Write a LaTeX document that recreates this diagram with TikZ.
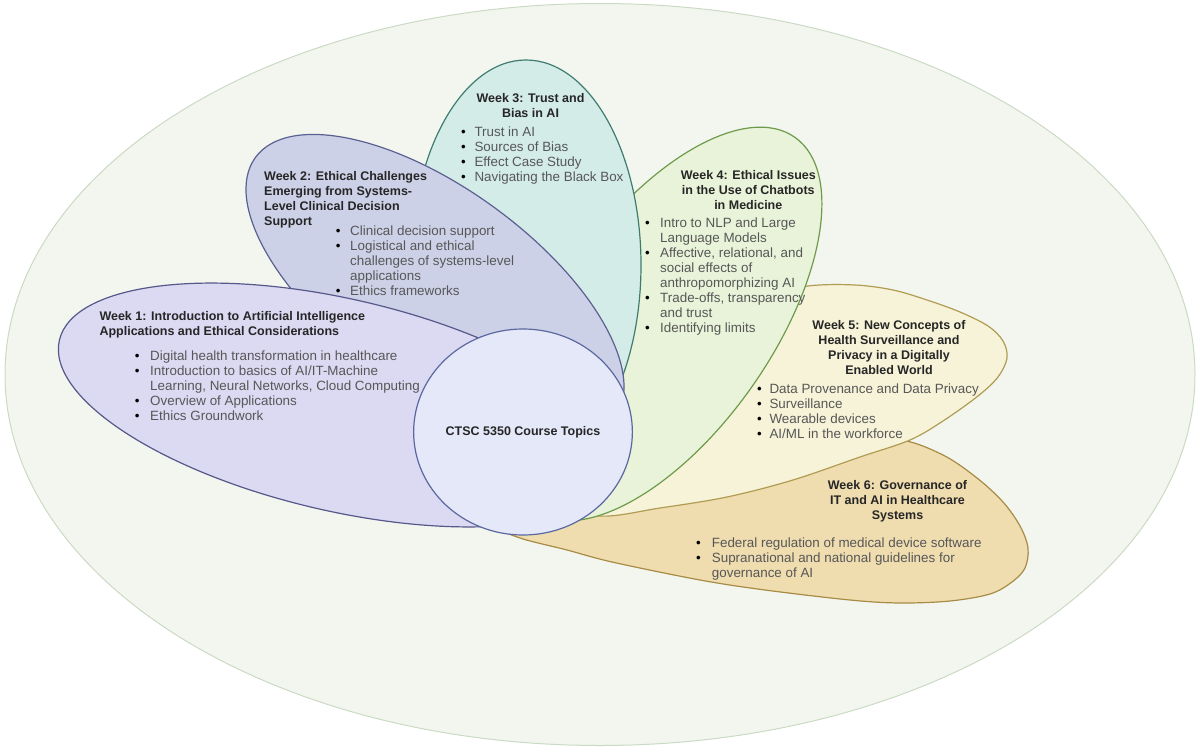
\documentclass[tikz,border=0pt]{standalone}
\usepackage{fontspec}
\setmainfont{Liberation Sans}
\usetikzlibrary{shapes.geometric}
\definecolor{bgfill}{HTML}{F3F6EF}
\definecolor{bgdraw}{HTML}{CBDAC4}
\definecolor{wAf}{HTML}{DCD9F2}\definecolor{wAd}{HTML}{56588A}
\definecolor{wBf}{HTML}{CDD1E7}\definecolor{wBd}{HTML}{5A6191}
\definecolor{wCf}{HTML}{D3ECE8}\definecolor{wCd}{HTML}{3E7C70}
\definecolor{wDf}{HTML}{E9F3D9}\definecolor{wDd}{HTML}{6E9B4B}
\definecolor{wEf}{HTML}{F6F3D8}\definecolor{wEd}{HTML}{B09C52}
\definecolor{wFf}{HTML}{EFDDB0}\definecolor{wFd}{HTML}{A88B44}
\definecolor{hubf}{HTML}{E4E8F8}\definecolor{hubd}{HTML}{5B689E}
\definecolor{titlec}{HTML}{262626}\definecolor{bodyc}{HTML}{575757}
\newlength\bw
\newcommand\bu{\makebox[\bw][l]{\color{black}\textbullet}}
\newcommand\titlefont{\fontsize{12.5}{15}\selectfont\bfseries}
\newcommand\bodyfont{\fontsize{13.4}{15}\selectfont}
\tikzset{
  petal/.style={line width=1.2pt},
  ttl/.style={inner sep=0pt, font=\titlefont, text=titlec},
  lst/.style={inner sep=0pt, font=\bodyfont, text=bodyc, anchor=base west},
}
\begin{document}
\begin{tikzpicture}[x=1pt,y=-1pt]
\useasboundingbox (0,0) rectangle (1200,749);
% background
\draw[fill=bgfill, draw=bgdraw, line width=1pt] (600,374.5) ellipse [x radius=595, y radius=371];
% week 6
\draw[petal, fill=wFf, draw=wFd] plot[smooth cycle, tension=0.55] coordinates {
 (505,528) (560,517) (630,500) (700,481) (780,461) (850,446) (900,440) (943,455)
 (977,478) (1003,502) (1020,526) (1028,548) (1025,568) (1012,582) (990,594)
 (950,601) (900,603) (850,600) (765,590) (700,580) (612,562) (567,550) (520,538)};
% week 5
\draw[petal, fill=wEf, draw=wEd] plot[smooth cycle, tension=0.55] coordinates {
 (555,500) (600,516) (660,508) (727,497) (793,480) (860,457) (910,440) (943,421)
 (978,396) (998,377) (1007,358) (1003,341) (988,326) (960,312) (927,300) (893,290)
 (855,285) (808,286) (760,297) (700,330) (640,385) (590,450)};
% week 4
\draw[petal, fill=wDf, draw=wDd, rotate around={55:(664,324)}] (664,324) ellipse [x radius=228, y radius=108];
% week 3
\draw[petal, fill=wCf, draw=wCd] (526,265) ellipse [x radius=115, y radius=205];
% week 2
\draw[petal, fill=wBf, draw=wBd, rotate around={-36:(435,288)}] (435,288) ellipse [x radius=222, y radius=100];
% week 1
\draw[petal, fill=wAf, draw=wAd, rotate around={-13:(340,405)}] (340,405) ellipse [x radius=288, y radius=106];
% hub
\node[ellipse, fill=hubf, draw=hubd, line width=1.2pt, minimum width=216pt, minimum height=206pt, inner sep=0pt, font=\titlefont, text=titlec] (hub) at (523,432) {CTSC 5350 Course Topics};

% Week 1 text
\node[ttl, anchor=base west] (t1) at (99.3,320.2) {\begin{tabular}[t]{@{}l@{}}Week 1: Introduction to Artificial Intelligence\\Applications and Ethical Considerations\end{tabular}};
\node[lst] (l1) at (134.7,360.5) {\setlength\bw{15.3pt}\begin{tabular}[t]{@{}l@{}l@{}}
\bu & Digital health transformation in healthcare\\
\bu & Introduction to basics of AI/IT-Machine\\
    & Learning, Neural Networks, Cloud Computing\\
\bu & Overview of Applications\\
\bu & Ethics Groundwork\end{tabular}};

% Week 2 text
\node[ttl, anchor=base west] (t2) at (264,180.2) {\begin{tabular}[t]{@{}l@{}}Week 2: Ethical Challenges\\Emerging from Systems-\\Level Clinical Decision\\Support\end{tabular}};
\node[lst] (l2) at (335.7,235.5) {\setlength\bw{14.3pt}\begin{tabular}[t]{@{}l@{}l@{}}
\bu & Clinical decision support\\
\bu & Logistical and ethical\\
    & challenges of systems-level\\
    & applications\\
\bu & Ethics frameworks\end{tabular}};

% Week 3 text
\node[ttl, anchor=base] (t3) at (530.5,102.8) {\begin{tabular}[t]{@{}c@{}}Week 3: Trust and\\Bias in AI\end{tabular}};
\node[lst] (l3) at (461,136.8) {\setlength\bw{13.3pt}\begin{tabular}[t]{@{}l@{}l@{}}
\bu & Trust in AI\\
\bu & Sources of Bias\\
\bu & Effect Case Study\\
\bu & Navigating the Black Box\end{tabular}};

% Week 4 text
\node[ttl, anchor=base] (t4) at (748.3,179.5) {\begin{tabular}[t]{@{}c@{}}Week 4: Ethical Issues\\in the Use of Chatbots\\in Medicine\end{tabular}};
\node[lst] (l4) at (645,227.8) {\setlength\bw{15pt}\begin{tabular}[t]{@{}l@{}l@{}}
\bu & Intro to NLP and Large\\
    & Language Models\\
\bu & Affective, relational, and\\
    & social effects of\\
    & anthropomorphizing AI\\
\bu & Trade-offs, transparency\\
    & and trust\\
\bu & Identifying limits\end{tabular}};

% Week 5 text
\node[ttl, anchor=base] (t5) at (889,329.5) {\begin{tabular}[t]{@{}c@{}}Week 5: New Concepts of\\Health Surveillance and\\Privacy in a Digitally\\Enabled World\end{tabular}};
\node[lst] (l5) at (757,393.8) {\setlength\bw{12.3pt}\begin{tabular}[t]{@{}l@{}l@{}}
\bu & Data Provenance and Data Privacy\\
\bu & Surveillance\\
\bu & Wearable devices\\
\bu & AI/ML in the workforce\end{tabular}};

% Week 6 text
\node[ttl, anchor=base] (t6) at (897.5,489.5) {\begin{tabular}[t]{@{}c@{}}Week 6: Governance of\\IT and AI in Healthcare\\Systems\end{tabular}};
\node[lst] (l6) at (696,547.8) {\setlength\bw{15.7pt}\begin{tabular}[t]{@{}l@{}l@{}}
\bu & Federal regulation of medical device software\\
\bu & Supranational and national guidelines for\\
    & governance of AI\end{tabular}};
\end{tikzpicture}
\end{document}
